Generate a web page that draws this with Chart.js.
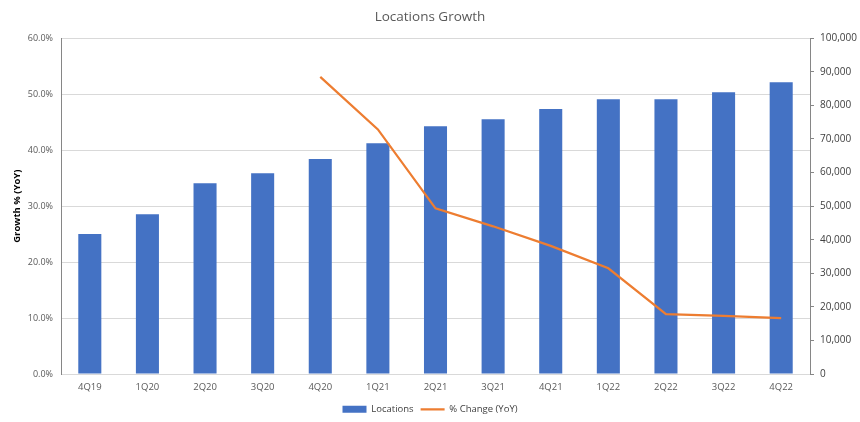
<!DOCTYPE html>
<html>
<head>
<meta charset="utf-8">
<script src="https://cdn.jsdelivr.net/npm/chart.js@4"></script>
<style>
html, body { margin: 0; padding: 0; background: #fff; }
#wrap { position: relative; width: 860px; height: 422px; }
</style>
</head>
<body>
<div id="wrap"><canvas id="chart" width="860" height="422"></canvas></div>
<script>
const quarters = ['4Q19','1Q20','2Q20','3Q20','4Q20','1Q21','2Q21','3Q21','4Q21','1Q22','2Q22','3Q22','4Q22'];
const locations = [41700, 47600, 56850, 59800, 64000, 68750, 73800, 75900, 78900, 81850, 81850, 83900, 86900];
const pctChange = [null, null, null, null, 53.1, 43.7, 29.6, 26.4, 22.9, 18.9, 10.7, 10.4, 10.0];

new Chart(document.getElementById('chart'), {
    type: 'bar',
    data: {
        labels: quarters,
        datasets: [
            { type: 'bar', label: 'Locations', data: locations, yAxisID: 'y1', backgroundColor: '#4472c4', categoryPercentage: 0.4, barPercentage: 1, order: 2 },
            { type: 'line', label: '% Change (YoY)', data: pctChange, yAxisID: 'y', borderColor: '#ed7d31', backgroundColor: '#ed7d31', borderWidth: 2.25, pointRadius: 0, tension: 0, order: 1 }
        ]
    },
    options: {
        responsive: false,
        animation: false,
        layout: { padding: { bottom: -2 } },
        scales: {
            x: {
                afterFit: scale => { scale.height += 6; },
                grid: { display: false },
                border: { color: '#d9d9d9' },
                ticks: { padding: -1, color: '#595959', font: { family: 'Open Sans', size: 9.5 } }
            },
            y: {
                position: 'left', min: 0, max: 60,
                afterFit: scale => { scale.width = 61; },
                title: { display: true, text: 'Growth % (YoY)', color: '#000', font: { family: 'Open Sans', size: 9.5, weight: 'bold' }, padding: { top: 12, bottom: 0 } },
                grid: { color: '#d9d9d9', drawTicks: false },
                border: { color: '#868686' },
                ticks: { stepSize: 10, padding: 8, color: '#595959', font: { family: 'Open Sans', size: 9 }, callback: v => v.toFixed(1) + '%' }
            },
            y1: {
                position: 'right', min: 0, max: 100000,
                afterFit: scale => { scale.width = 50; },
                grid: { drawOnChartArea: false, color: '#868686', tickLength: 4 },
                border: { color: '#868686' },
                ticks: { stepSize: 10000, padding: 6, color: '#404040', font: { family: 'Open Sans', size: 10 }, callback: v => v.toLocaleString('en-US') }
            }
        },
        plugins: {
            title: { display: true, text: 'Locations Growth', color: '#595959', font: { family: 'Open Sans', size: 13.5, weight: 'normal' }, padding: { top: 9, bottom: 13 } },
            legend: {
                position: 'bottom',
                labels: {
                    color: '#404040',
                    font: { family: 'Open Sans', size: 9.5 },
                    usePointStyle: true,
                    pointStyleWidth: 24,
                    boxHeight: 7,
                    padding: 7,
                    sort: (a, b) => a.datasetIndex - b.datasetIndex,
                    generateLabels: chart => Chart.defaults.plugins.legend.labels.generateLabels(chart).map(item => {
                        item.pointStyle = item.datasetIndex === 1 ? 'line' : 'rect';
                        return item;
                    })
                }
            },
            tooltip: { enabled: false }
        }
    }
});
</script>
</body>
</html>
